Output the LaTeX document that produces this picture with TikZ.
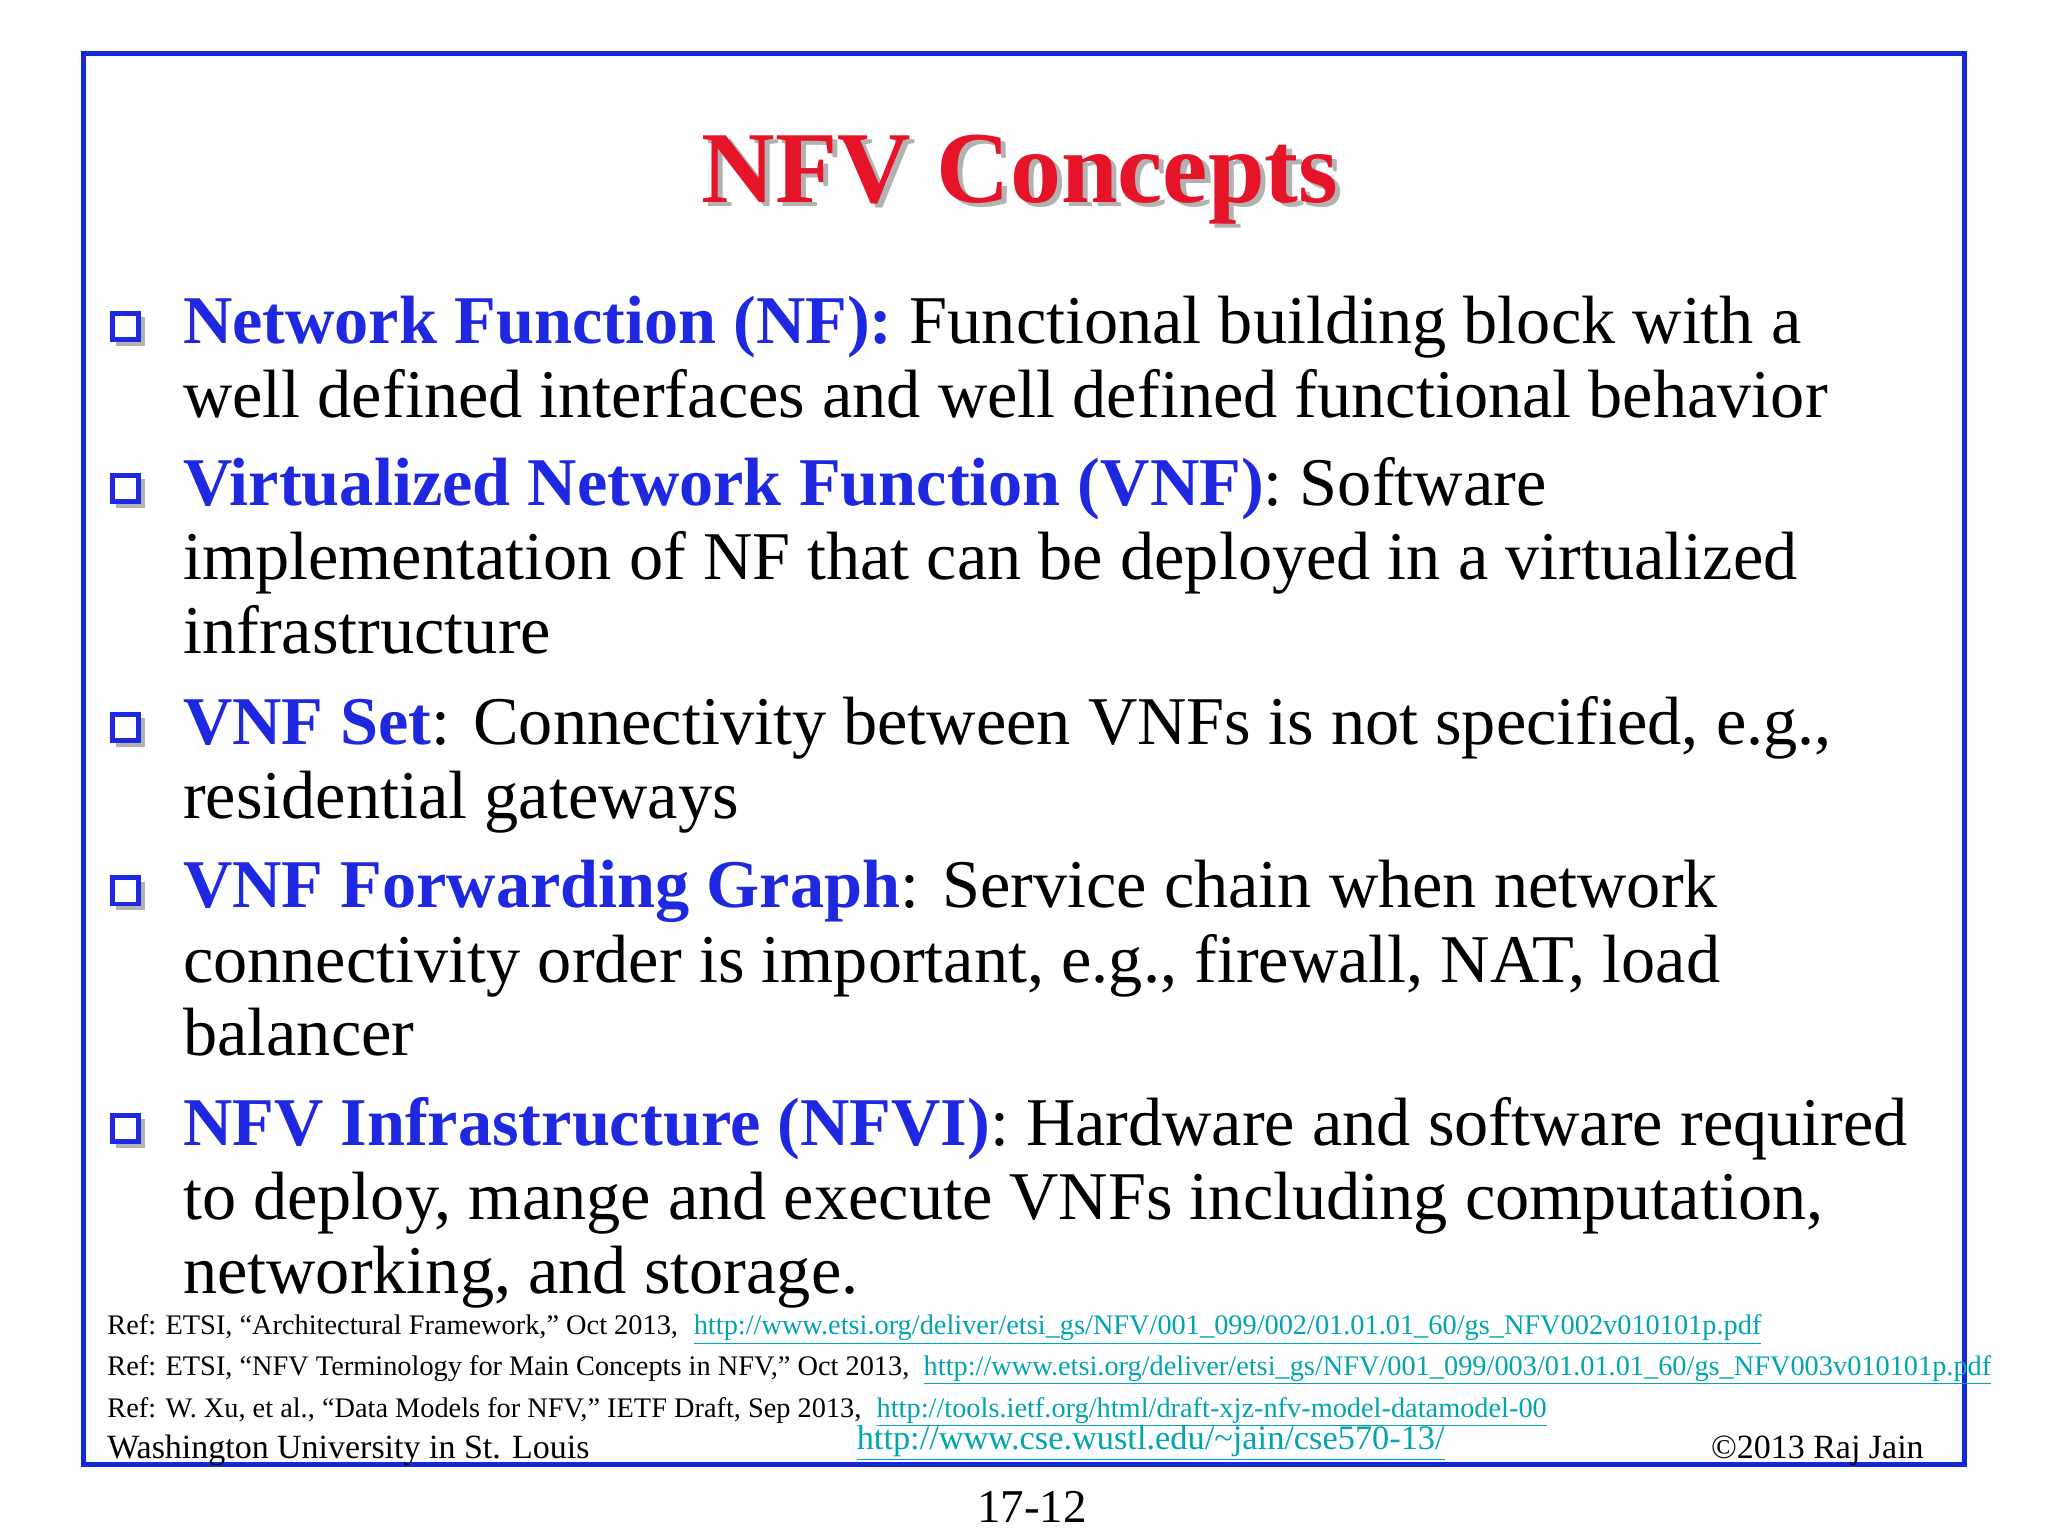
\documentclass[tikz,border=0pt]{standalone}
\usepackage{fontspec}
\setmainfont{Liberation Serif}
\definecolor{tblue}{RGB}{30,40,225}
\definecolor{tred}{RGB}{230,20,40}
\definecolor{lnk}{RGB}{0,165,175}
\definecolor{fblue}{RGB}{20,40,220}
\begin{document}
\begin{tikzpicture}[x=1pt,y=-1pt,
  ln/.style={anchor=base west,inner sep=0pt,font=\fontsize{52.3}{55}\selectfont},
  rf/.style={anchor=base west,inner sep=0pt,font=\fontsize{21.7}{23}\selectfont}]
\useasboundingbox (0,0) rectangle (1568,1176);
\fill[white] (0,0) rectangle (1568,1176);
\draw[fblue,line width=4pt] (64,41) rectangle (1504,1121);
% title
\node[inner sep=0pt,anchor=base,font=\fontsize{78}{84}\selectfont\bfseries,text=gray!60] (tsh) at (785,158) {NFV Concepts};
\node[inner sep=0pt,anchor=base,font=\fontsize{78}{84}\selectfont\bfseries,text=tred] (t) at (781,155) {NFV Concepts};
% bullets
\foreach \y/\n in {263/b1,387/b2,570/b3,695/b4,877/b5}{
  \fill[gray!60] (89,\y-20) rectangle (111,\y+2);
  \filldraw[draw=tblue,fill=white,line width=3.5pt] (86,\y-23) rectangle (106,\y-3);
  \coordinate (\n) at (96,\y-13);
}
\newcommand\bb[1]{\textcolor{tblue}{\bfseries #1}}
\node[ln] (l1) at (140,263) {\bb{Network Function (NF):} Functional building block with a};
\node[ln] (l2) at (140,320) {well defined interfaces and well defined functional behavior};
\node[ln] (l3) at (140,387) {\bb{Virtualized Network Function (VNF)}: Software};
\node[ln] (l4) at (140,444) {implementation of NF that can be deployed in a virtualized};
\node[ln] (l5) at (140,500) {infrastructure};
\node[ln] (l6) at (140,570) {\bb{VNF Set}: Connectivity between VNFs is not specified, e.g.,};
\node[ln] (l7) at (140,627) {residential gateways};
\node[ln] (l8) at (140,695) {\bb{VNF Forwarding Graph}: Service chain when network};
\node[ln] (l9) at (140,752) {connectivity order is important, e.g., firewall, NAT, load};
\node[ln] (l10) at (140,808) {balancer};
\node[ln] (l11) at (140,877) {\bb{NFV Infrastructure (NFVI)}: Hardware and software required};
\node[ln] (l12) at (140,934) {to deploy, mange and execute VNFs including computation,};
\node[ln] (l13) at (140,990) {networking, and storage.};
% refs
\node[rf] (r1) at (82,1022) {Ref: ETSI, ``Architectural Framework,'' Oct 2013,};
\node[rf,text=lnk] (u1) at (531,1022) {\underline{http://www.etsi.org/deliver/etsi\_gs/NFV/001\_099/002/01.01.01\_60/gs\_NFV002v010101p.pdf}};
\node[rf] (r2) at (82,1053) {Ref: ETSI, ``NFV Terminology for Main Concepts in NFV,'' Oct 2013,};
\node[rf,text=lnk] (u2) at (707,1053) {\underline{http://www.etsi.org/deliver/etsi\_gs/NFV/001\_099/003/01.01.01\_60/gs\_NFV003v010101p.pdf}};
\node[rf] (r3) at (82,1085) {Ref: W. Xu, et al., ``Data Models for NFV,'' IETF Draft, Sep 2013,};
\node[rf,text=lnk] (u3) at (671,1085) {\underline{http://tools.ietf.org/html/draft-xjz-nfv-model-datamodel-00}};
% footer
\node[anchor=base west,inner sep=0pt,font=\fontsize{26}{28}\selectfont] (f1) at (82,1117) {Washington University in St. Louis};
\node[anchor=base,inner sep=0pt,font=\fontsize{26.3}{28}\selectfont,text=lnk] (f2) at (881,1110) {\underline{http://www.cse.wustl.edu/\textasciitilde jain/cse570-13/}};
\node[anchor=base east,inner sep=0pt,font=\fontsize{26}{28}\selectfont] (f3) at (1473,1117) {©2013 Raj Jain};
\node[anchor=base,inner sep=0pt,font=\fontsize{36}{38}\selectfont] (pg) at (790,1166) {17-12};
\end{tikzpicture}
\end{document}
